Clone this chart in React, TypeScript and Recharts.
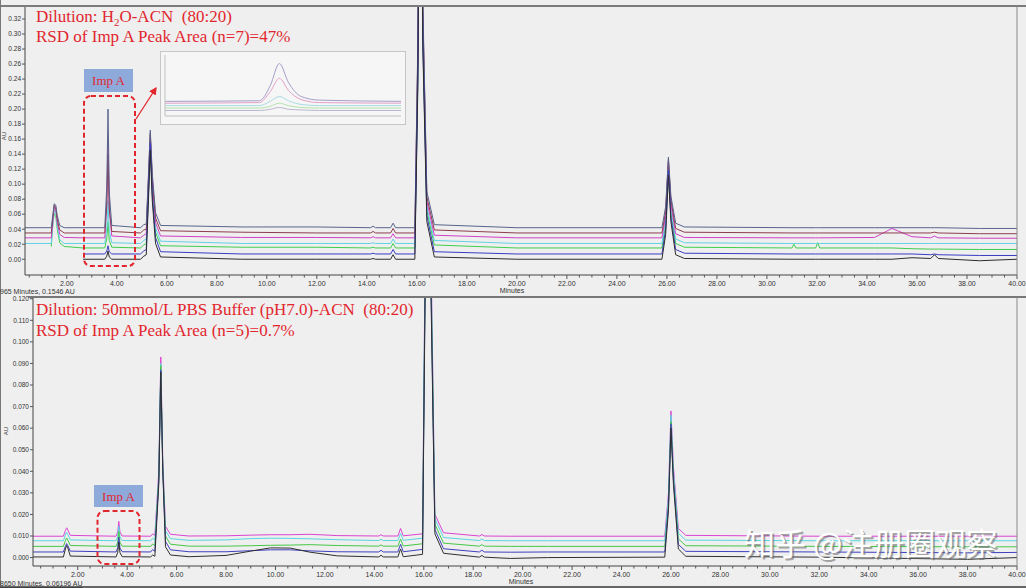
import { LineChart, Line, XAxis, YAxis } from "recharts";

// ---------- upper run: H2O-ACN diluent, 7 injections ----------
const TOP_TIMES = [
  0.33, 1.38, 1.45, 1.5, 1.56, 1.62, 1.72, 1.9, 2.65, 3.52, 3.6, 3.65, 3.7, 3.8,
  4.95, 5.08, 5.18, 5.26, 5.34, 5.42, 5.55, 5.75, 9.0, 12.0, 14.15, 14.25, 14.35,
  14.95, 15.05, 15.15, 15.92, 16.04, 16.14, 16.24, 16.4, 16.7, 20.0, 25.8, 25.95,
  26.06, 26.16, 26.35, 26.7, 31.0, 31.08, 31.16, 31.95, 32.03, 32.11, 34.3, 35.0,
  35.8, 36.55, 36.7, 36.85, 38.5, 40.0,
];

const TOP_SLATE = [
  0.042, 0.042, 0.061, 0.074, 0.072, 0.058, 0.045, 0.042, 0.042, 0.042, 0.097, 0.2, 0.089, 0.045,
  0.042, 0.046, 0.047, 0.107, 0.172, 0.114, 0.062, 0.045, 0.043, 0.043, 0.042, 0.044, 0.042,
  0.042, 0.048, 0.042, 0.042, 0.29, 0.75, 0.34, 0.09, 0.046, 0.042, 0.042, 0.07,
  0.136, 0.084, 0.048, 0.043, 0.042, 0.042, 0.042, 0.042, 0.042, 0.042, 0.042, 0.042,
  0.042, 0.042, 0.042, 0.042, 0.041, 0.041,
];
const TOP_DARKRED = [
  0.035, 0.035, 0.057, 0.072, 0.069, 0.053, 0.039, 0.035, 0.035, 0.035, 0.072, 0.14, 0.067, 0.037,
  0.035, 0.039, 0.04, 0.102, 0.168, 0.108, 0.055, 0.038, 0.036, 0.035, 0.035, 0.037, 0.035,
  0.035, 0.041, 0.035, 0.035, 0.28, 0.74, 0.33, 0.083, 0.039, 0.035, 0.035, 0.064,
  0.133, 0.079, 0.041, 0.036, 0.035, 0.035, 0.035, 0.035, 0.035, 0.035, 0.035, 0.035,
  0.035, 0.035, 0.036, 0.035, 0.034, 0.034,
];
const TOP_MAGENTA = [
  0.0285, 0.0285, 0.053, 0.07, 0.067, 0.049, 0.033, 0.029, 0.0285, 0.0285, 0.075, 0.16, 0.068, 0.031,
  0.0285, 0.032, 0.034, 0.097, 0.165, 0.103, 0.049, 0.031, 0.029, 0.029, 0.0285, 0.03, 0.0285,
  0.0285, 0.034, 0.0285, 0.0285, 0.27, 0.73, 0.32, 0.077, 0.032, 0.0285, 0.0285, 0.058,
  0.13, 0.073, 0.034, 0.029, 0.0285, 0.0285, 0.0285, 0.0285, 0.0285, 0.0285, 0.029, 0.041,
  0.03, 0.0285, 0.031, 0.0285, 0.028, 0.028,
];
const TOP_CYAN = [
  0.021, 0.021, 0.048, 0.066, 0.063, 0.044, 0.026, 0.021, 0.021, 0.021, 0.041, 0.078, 0.038, 0.022,
  0.021, 0.025, 0.027, 0.091, 0.16, 0.097, 0.042, 0.024, 0.021, 0.021, 0.021, 0.022, 0.021,
  0.021, 0.027, 0.021, 0.021, 0.26, 0.72, 0.31, 0.07, 0.025, 0.021, 0.021, 0.052,
  0.125, 0.067, 0.027, 0.022, 0.021, 0.021, 0.021, 0.021, 0.021, 0.021, 0.021, 0.021,
  0.021, 0.021, 0.021, 0.021, 0.021, 0.021,
];
const TOP_GREEN = [
  null, 0.017, 0.05, 0.061, 0.058, 0.04, 0.022, 0.017, 0.015, 0.015, 0.027, 0.05, 0.025, 0.016,
  0.015, 0.019, 0.021, 0.084, 0.152, 0.09, 0.036, 0.018, 0.016, 0.016, 0.015, 0.016, 0.015,
  0.015, 0.021, 0.015, 0.015, 0.25, 0.71, 0.3, 0.065, 0.019, 0.015, 0.015, 0.047,
  0.12, 0.062, 0.021, 0.016, 0.015, 0.02, 0.015, 0.015, 0.022, 0.015, 0.015, 0.015,
  0.014, 0.0135, 0.0135, 0.0135, 0.013, 0.013,
];
const TOP_BLUE = [
  null, null, null, null, null, null, null, null, 0.007, 0.007, 0.011, 0.018, 0.01, 0.007,
  0.007, 0.011, 0.013, 0.08, 0.155, 0.085, 0.029, 0.01, 0.007, 0.007, 0.007, 0.008, 0.007,
  0.007, 0.013, 0.007, 0.007, 0.24, 0.7, 0.29, 0.058, 0.01, 0.007, 0.007, 0.04,
  0.118, 0.056, 0.013, 0.008, 0.007, 0.007, 0.007, 0.007, 0.007, 0.007, 0.007, 0.007,
  0.007, 0.006, 0.007, 0.006, 0.005, 0.005,
];
const TOP_BLACK = [
  null, null, null, null, null, null, null, null, 0.0, 0.0, 0.004, 0.011, 0.003, 0.0,
  0.0, 0.004, 0.006, 0.072, 0.145, 0.078, 0.021, 0.003, 0.0, 0.0, 0.0, 0.001, 0.0,
  0.0, 0.006, 0.0, 0.0, 0.23, 0.69, 0.28, 0.05, 0.003, 0.0, 0.0, 0.033,
  0.112, 0.05, 0.006, 0.001, 0.0, 0.0, 0.0, 0.0, 0.0, 0.0, 0.0, 0.0,
  0.002, 0.001, 0.006, 0.001, -0.002, 0.0,
];

// ---------- lower run: PBS buffer diluent, 5 injections ----------
const BOT_TIMES = [
  0.19, 1.42, 1.5, 1.55, 1.6, 1.7, 3.55, 3.62, 3.66, 3.71, 3.8, 4.95, 5.03, 5.12,
  5.28, 5.36, 5.44, 5.55, 5.75, 6.5, 8.0, 9.0, 9.8, 10.6, 11.4, 12.5, 14.18, 14.27,
  14.36, 14.95, 15.06, 15.17, 15.95, 16.07, 16.17, 16.28, 16.45, 16.8, 18.25, 18.35,
  18.45, 19.5, 21.0, 25.75, 25.9, 26.0, 26.1, 26.3, 26.6, 32.0, 38.0, 40.0,
];

const BOT_MAGENTA = [
  0.0099, 0.0099, 0.0125, 0.0138, 0.0128, 0.0103, 0.0099, 0.012, 0.0168, 0.0118, 0.01, 0.0099, 0.011, 0.0102,
  0.04, 0.093, 0.045, 0.0145, 0.0108, 0.01, 0.0101, 0.0104, 0.0106, 0.0106, 0.0108, 0.0102, 0.01, 0.0106,
  0.01, 0.01, 0.0135, 0.0101, 0.011, 0.16, 0.35, 0.15, 0.02, 0.0115, 0.01, 0.0107,
  0.01, 0.0099, 0.0099, 0.0099, 0.03, 0.068, 0.042, 0.0135, 0.0103, 0.0099, 0.0099, 0.0099,
];
const BOT_CYAN = [
  0.0078, 0.0078, 0.0104, 0.0117, 0.0107, 0.0082, 0.0078, 0.0098, 0.0146, 0.0096, 0.0079, 0.0078, 0.0089, 0.0081,
  0.038, 0.09, 0.043, 0.0125, 0.0088, 0.008, 0.0082, 0.0088, 0.009, 0.0089, 0.0087, 0.0083, 0.0079, 0.0085,
  0.0079, 0.0079, 0.0112, 0.008, 0.009, 0.155, 0.345, 0.145, 0.018, 0.0093, 0.0079, 0.0086,
  0.0079, 0.0078, 0.0078, 0.0078, 0.028, 0.066, 0.04, 0.0113, 0.0081, 0.0078, 0.0078, 0.0078,
];
const BOT_GREEN = [
  0.0052, 0.0052, 0.0078, 0.0091, 0.0081, 0.0056, 0.0052, 0.0072, 0.0121, 0.007, 0.0053, 0.0052, 0.0063, 0.0055,
  0.037, 0.089, 0.042, 0.01, 0.0062, 0.0053, 0.0053, 0.0055, 0.0057, 0.0058, 0.006, 0.0056, 0.0053, 0.0059,
  0.0053, 0.0053, 0.0086, 0.0054, 0.0064, 0.15, 0.34, 0.14, 0.0155, 0.0067, 0.0053, 0.006,
  0.0053, 0.0052, 0.0052, 0.0052, 0.025, 0.063, 0.037, 0.0087, 0.0055, 0.0052, 0.005, 0.005,
];
const BOT_BLUE = [
  0.0026, 0.0026, 0.0052, 0.0065, 0.0055, 0.003, 0.0026, 0.0046, 0.0095, 0.0044, 0.0027, 0.0026, 0.0037, 0.0029,
  0.036, 0.087, 0.041, 0.0075, 0.0036, 0.0027, 0.0027, 0.0032, 0.0036, 0.0036, 0.0031, 0.0027, 0.0026, 0.0034,
  0.0026, 0.0026, 0.0062, 0.0027, 0.0038, 0.145, 0.335, 0.135, 0.013, 0.0041, 0.0026, 0.0034,
  0.0026, 0.0025, 0.0026, 0.0026, 0.024, 0.062, 0.036, 0.0061, 0.0029, 0.0026, 0.0022, 0.0024,
];
const BOT_BLACK = [
  0.0003, 0.0003, 0.004, 0.0056, 0.0045, 0.0007, 0.0003, 0.0025, 0.0072, 0.0022, 0.0004, 0.0003, 0.0012, 0.0006,
  0.034, 0.086, 0.04, 0.005, 0.0012, 0.0004, 0.001, 0.003, 0.0045, 0.0044, 0.0025, 0.0008, 0.0003, 0.0011,
  0.0003, 0.0003, 0.004, 0.0004, 0.0015, 0.14, 0.33, 0.13, 0.011, 0.002, 0.0002, 0.001,
  0.0002, -0.0004, 0.0, 0.0002, 0.022, 0.06, 0.034, 0.004, 0.0006, 0.0002, -0.0008, 0.0,
];

// ---------- zoomed inset around Imp A (upper run) ----------
const INSET_TIMES = [3.0, 3.52, 3.58, 3.63, 3.68, 3.75, 3.85, 4.3];
const INSET_A = [0.24, 0.25, 0.5, 0.86, 0.55, 0.32, 0.26, 0.24];
const INSET_B = [0.21, 0.22, 0.4, 0.62, 0.42, 0.27, 0.22, 0.21];
const INSET_C = [0.17, 0.17, 0.24, 0.32, 0.25, 0.19, 0.17, 0.17];
const INSET_D = [0.13, 0.13, 0.16, 0.21, 0.17, 0.14, 0.13, 0.13];
const INSET_E = [0.09, 0.09, 0.11, 0.14, 0.11, 0.1, 0.09, 0.09];

const X_MAJOR = [2, 4, 6, 8, 10, 12, 14, 16, 18, 20, 22, 24, 26, 28, 30, 32, 34, 36, 38, 40];
const TOP_Y_TICKS = [0, 0.02, 0.04, 0.06, 0.08, 0.1, 0.12, 0.14, 0.16, 0.18, 0.2, 0.22, 0.24, 0.26, 0.28, 0.3, 0.32];
const BOT_Y_TICKS = [0, 0.01, 0.02, 0.03, 0.04, 0.05, 0.06, 0.07, 0.08, 0.09, 0.1, 0.11, 0.12];

const TOP_SERIES = [
  { key: "green", color: "#3fcf4c", values: TOP_GREEN },
  { key: "cyan", color: "#62d2e4", values: TOP_CYAN },
  { key: "magenta", color: "#d140c6", values: TOP_MAGENTA },
  { key: "darkred", color: "#8e3d4e", values: TOP_DARKRED },
  { key: "slate", color: "#58648c", values: TOP_SLATE },
  { key: "blue", color: "#3a3cc4", values: TOP_BLUE },
  { key: "black", color: "#2c2c2c", values: TOP_BLACK },
];
const BOT_SERIES = [
  { key: "magenta", color: "#dc44d2", values: BOT_MAGENTA },
  { key: "cyan", color: "#58d6e2", values: BOT_CYAN },
  { key: "green", color: "#44c846", values: BOT_GREEN },
  { key: "blue", color: "#4040c0", values: BOT_BLUE },
  { key: "black", color: "#303030", values: BOT_BLACK },
];
const INSET_SERIES = [
  { key: "e", color: "#b8b8cc", values: INSET_E },
  { key: "d", color: "#b4e2ac", values: INSET_D },
  { key: "c", color: "#a6dde4", values: INSET_C },
  { key: "b", color: "#e2a0c8", values: INSET_B },
  { key: "a", color: "#a49ec8", values: INSET_A },
];

type Series = { key: string; color: string; values: (number | null)[] };

function buildRows(times: number[], series: Series[]) {
  return times.map((t, i) => {
    const row: Record<string, number | null> = { t };
    series.forEach((s) => {
      row[s.key] = s.values[i];
    });
    return row;
  });
}

const minorTicks: number[] = [];
for (let i = 1; i <= 80; i++) minorTicks.push(i * 0.5);

const TICK_FONT = "'Liberation Sans', Arial, sans-serif";
const RED = "#e2262e";

function XTick(props: any) {
  const { x, y, payload } = props;
  const v = payload.value as number;
  const major = X_MAJOR.includes(v);
  return (
    <g>
      <line x1={x} x2={x} y1={y} y2={y + (major ? 4 : 2.5)} stroke="#555" strokeWidth={1} />
      {major && (
        <text x={x} y={y + 11} textAnchor="middle" fontSize={7} fill="#333" fontFamily={TICK_FONT}>
          {v.toFixed(2)}
        </text>
      )}
    </g>
  );
}

function makeYTick(digits: number) {
  return function YTick(props: any) {
    const { x, y, payload } = props;
    return (
      <g>
        <line x1={x - 3} x2={x} y1={y} y2={y} stroke="#555" strokeWidth={1} />
        <text x={x - 4} y={y + 2.3} textAnchor="end" fontSize={6.5} fill="#333" fontFamily={TICK_FONT}>
          {(payload.value as number).toFixed(digits)}
        </text>
      </g>
    );
  };
}

function Chromatogram({
  rows,
  series,
  width,
  height,
  margin,
  yWidth,
  xHeight,
  xDomain,
  yDomain,
  yTicks,
  digits,
}: {
  rows: Record<string, number | null>[];
  series: Series[];
  width: number;
  height: number;
  margin: { top: number; right: number; bottom: number; left: number };
  yWidth: number;
  xHeight: number;
  xDomain: [number, number];
  yDomain: [number, number];
  yTicks: number[];
  digits: number;
}) {
  return (
    <LineChart width={width} height={height} data={rows} margin={margin}>
      <XAxis
        dataKey="t"
        type="number"
        domain={xDomain}
        allowDataOverflow
        ticks={minorTicks}
        interval={0}
        tick={<XTick />}
        tickLine={false}
        tickSize={0}
        tickMargin={0}
        height={xHeight}
        axisLine={{ stroke: "#444" }}
      />
      <YAxis
        type="number"
        domain={yDomain}
        allowDataOverflow
        ticks={yTicks}
        interval={0}
        tick={makeYTick(digits)}
        tickLine={false}
        tickSize={0}
        tickMargin={0}
        width={yWidth}
        axisLine={{ stroke: "#444" }}
      />
      {series.map((s) => (
        <Line
          key={s.key}
          dataKey={s.key}
          type="linear"
          stroke={s.color}
          strokeWidth={1}
          dot={false}
          activeDot={false}
          connectNulls={false}
          isAnimationActive={false}
        />
      ))}
    </LineChart>
  );
}

export default function App() {
  const topRows = buildRows(TOP_TIMES, TOP_SERIES);
  const botRows = buildRows(BOT_TIMES, BOT_SERIES);
  const insetRows = buildRows(INSET_TIMES, INSET_SERIES);
  const serif = "'Liberation Serif', 'Times New Roman', serif";

  return (
    <div
      style={{
        position: "absolute",
        left: 0,
        top: 0,
        width: 1026,
        height: 588,
        background: "#efefef",
        overflow: "hidden",
      }}
    >
      <div style={{ position: "absolute", left: 0, top: 0 }}>
        <Chromatogram
          rows={topRows}
          series={TOP_SERIES}
          width={1026}
          height={300}
          margin={{ top: 7, right: 9, bottom: 0, left: 0 }}
          yWidth={25}
          xHeight={25}
          xDomain={[0.33, 40]}
          yDomain={[-0.021, 0.336]}
          yTicks={TOP_Y_TICKS}
          digits={2}
        />
      </div>
      <div style={{ position: "absolute", left: 0, top: 290 }}>
        <Chromatogram
          rows={botRows}
          series={BOT_SERIES}
          width={1026}
          height={298}
          margin={{ top: 7, right: 9, bottom: 0, left: 0 }}
          yWidth={33}
          xHeight={22}
          xDomain={[0.19, 40]}
          yDomain={[-0.0039, 0.1208]}
          yTicks={BOT_Y_TICKS}
          digits={3}
        />
      </div>

      {/* inset: zoom on Imp A peak */}
      <div
        style={{
          position: "absolute",
          left: 160,
          top: 51,
          width: 244,
          height: 72,
          background: "#f6f6f6",
          border: "1px solid #c6c6c6",
        }}
      >
        <LineChart width={244} height={72} data={insetRows} margin={{ top: 3, right: 4, bottom: 0, left: 0 }}>
          <XAxis
            dataKey="t"
            type="number"
            domain={[3.0, 4.3]}
            ticks={[3.05, 3.15, 3.25, 3.35, 3.45, 3.55, 3.65, 3.75, 3.85, 3.95, 4.05, 4.15, 4.25]}
            tick={false}
            tickSize={2}
            height={8}
            axisLine={{ stroke: "#c0c0c0" }}
            tickLine={{ stroke: "#b0b0b0" }}
          />
          <YAxis
            type="number"
            domain={[0, 1]}
            ticks={[0.1, 0.2, 0.3, 0.4, 0.5, 0.6, 0.7, 0.8, 0.9]}
            tick={false}
            tickSize={2}
            width={4}
            axisLine={{ stroke: "#c0c0c0" }}
            tickLine={{ stroke: "#b0b0b0" }}
          />
          {INSET_SERIES.map((s) => (
            <Line
              key={s.key}
              dataKey={s.key}
              type="monotone"
              stroke={s.color}
              strokeWidth={1}
              dot={false}
              activeDot={false}
              isAnimationActive={false}
            />
          ))}
        </LineChart>
      </div>

      <svg
        width={1026}
        height={588}
        style={{ position: "absolute", left: 0, top: 0, pointerEvents: "none" }}
      >
        <defs>
          <marker id="arrowHead" markerWidth="6" markerHeight="6" refX="5" refY="3" orient="auto">
            <path d="M0,0 L6,3 L0,6 Z" fill={RED} />
          </marker>
        </defs>

        {/* window frames */}
        <line x1={0} x2={1026} y1={6} y2={6} stroke="#555" strokeWidth={1.5} />
        <line x1={1017} x2={1017} y1={6} y2={275} stroke="#888" strokeWidth={1} />
        <line x1={28} x2={1026} y1={297} y2={297} stroke="#777" strokeWidth={2} />
        <line x1={1017} x2={1017} y1={297} y2={566} stroke="#888" strokeWidth={1} />
        <line x1={0.5} x2={0.5} y1={0} y2={588} stroke="#777" strokeWidth={1} />
        <line x1={0} x2={1026} y1={587} y2={587} stroke="#666" strokeWidth={2} />

        {/* axis captions and status lines */}
        <text x={512} y={293} textAnchor="middle" fontSize={7} fill="#333" fontFamily={TICK_FONT}>
          Minutes
        </text>
        <text x={521} y={584} textAnchor="middle" fontSize={7} fill="#333" fontFamily={TICK_FONT}>
          Minutes
        </text>
        <text x={0} y={294} fontSize={7} fill="#333" fontFamily={TICK_FONT}>
          965 Minutes, 0.1546 AU
        </text>
        <text x={0} y={586} fontSize={7} fill="#333" fontFamily={TICK_FONT} textDecoration="underline">
          8650 Minutes, 0.06196 AU
        </text>
        <text x={6} y={136} fontSize={6} fill="#333" fontFamily={TICK_FONT} transform="rotate(-90 6 136)" textAnchor="middle">
          AU
        </text>
        <text x={8} y={431} fontSize={6} fill="#333" fontFamily={TICK_FONT} transform="rotate(-90 8 431)" textAnchor="middle">
          AU
        </text>

        {/* upper run annotations */}
        <text x={36} y={22} fontSize={17} fill={RED} fontFamily={serif} style={{ whiteSpace: "pre" }}>
          Dilution: H<tspan fontSize={11} dy={4}>2</tspan>
          <tspan dy={-4}>O-ACN  (80:20)</tspan>
        </text>
        <text x={36} y={42} fontSize={17} fill={RED} fontFamily={serif}>
          RSD of Imp A Peak Area (n=7)=47%
        </text>
        <rect x={84} y={69} width={49} height={23} fill="#8eaadb" />
        <text x={108.5} y={85} textAnchor="middle" fontSize={13} fill={RED} fontFamily={serif}>
          Imp A
        </text>
        <rect
          x={84}
          y={96}
          width={51}
          height={170}
          rx={7}
          fill="none"
          stroke={RED}
          strokeWidth={2}
          strokeDasharray="5 3"
        />
        <line x1={136} y1={119} x2={156} y2={88} stroke={RED} strokeWidth={1.3} markerEnd="url(#arrowHead)" />

        {/* lower run annotations */}
        <text x={36} y={315} fontSize={17} fill={RED} fontFamily={serif} style={{ whiteSpace: "pre" }}>
          Dilution: 50mmol/L PBS Buffer (pH7.0)-ACN  (80:20)
        </text>
        <text x={36} y={336} fontSize={17} fill={RED} fontFamily={serif}>
          RSD of Imp A Peak Area (n=5)=0.7%
        </text>
        <rect x={94} y={485} width={49} height={22} fill="#8eaadb" />
        <text x={118.5} y={500.5} textAnchor="middle" fontSize={13} fill={RED} fontFamily={serif}>
          Imp A
        </text>
        <rect
          x={97.5}
          y={511}
          width={42}
          height={53}
          rx={7}
          fill="none"
          stroke={RED}
          strokeWidth={2}
          strokeDasharray="5 3"
        />

        {/* watermark */}
        <text
          x={746}
          y={557}
          fontSize={31}
          fill="#666"
          fontFamily="'Noto Sans CJK SC', sans-serif"
          opacity={0.55}
          style={{ whiteSpace: "pre" }}
        >
          知乎 @注册圈观察
        </text>
        <text
          x={744}
          y={555}
          fontSize={31}
          fill="#ffffff"
          fontFamily="'Noto Sans CJK SC', sans-serif"
          style={{ whiteSpace: "pre" }}
        >
          知乎 @注册圈观察
        </text>
      </svg>
    </div>
  );
}
